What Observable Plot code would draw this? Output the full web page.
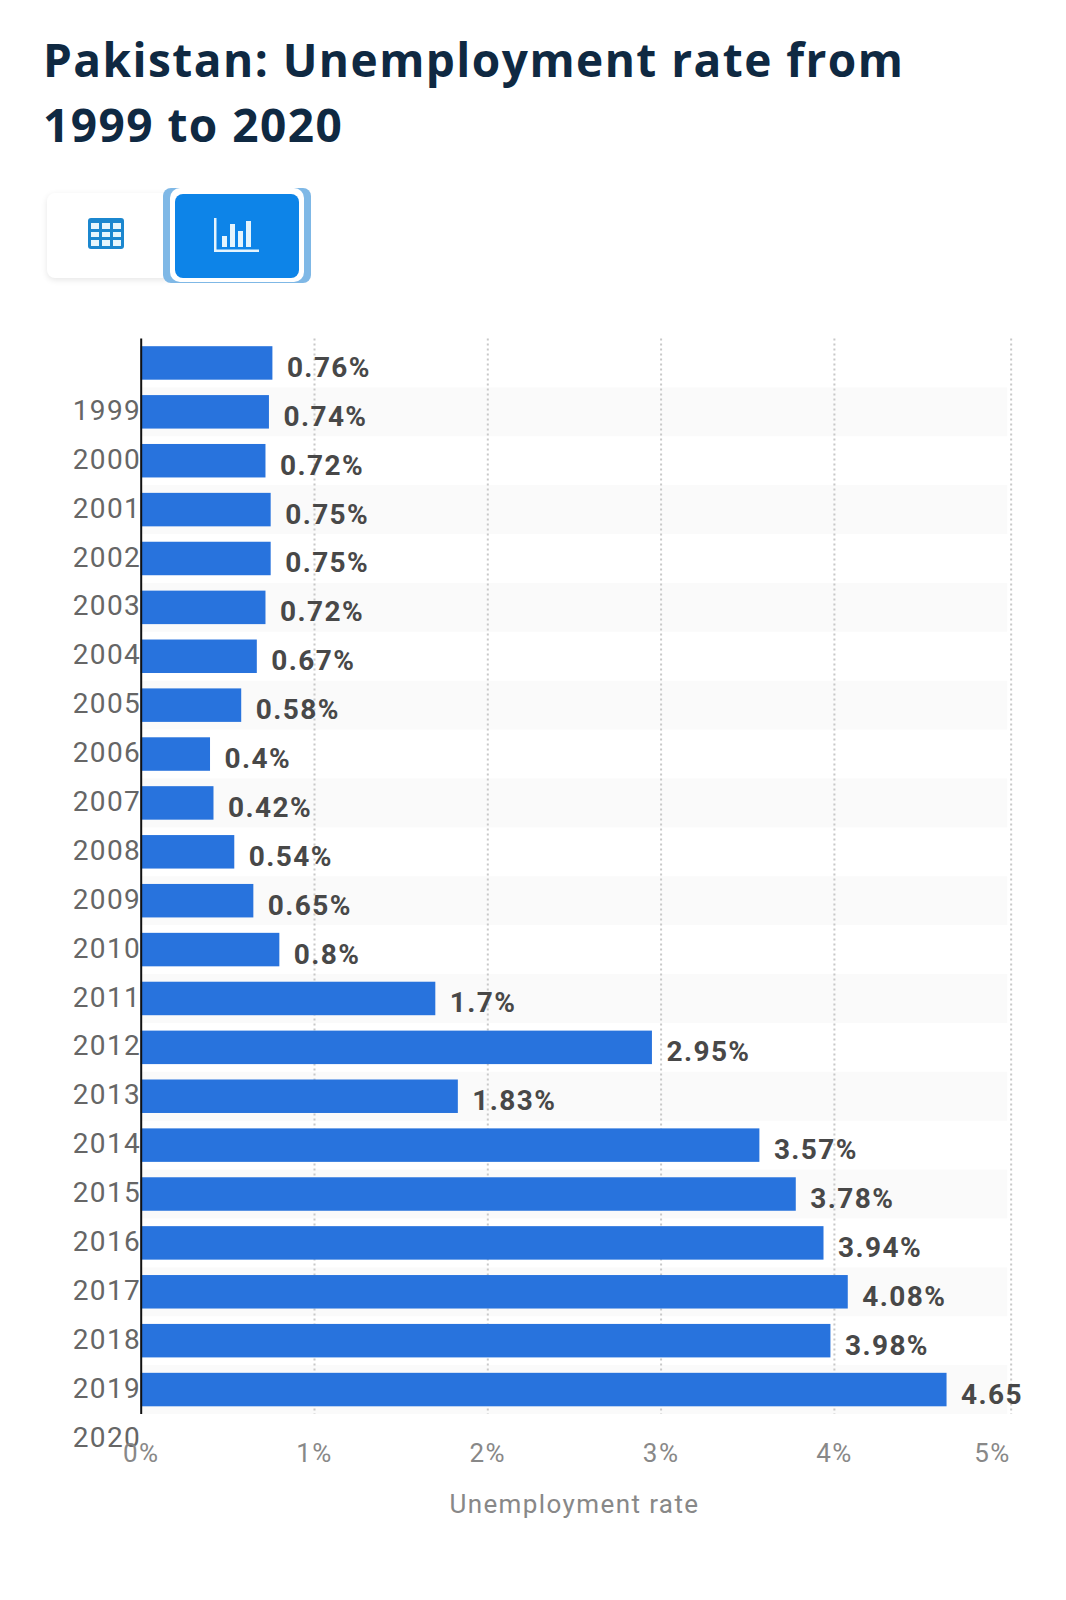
<!DOCTYPE html>
<html><head><meta charset="utf-8">
<script src="https://cdn.jsdelivr.net/npm/d3@7"></script>
<script src="https://cdn.jsdelivr.net/npm/@observablehq/plot@0.6"></script>
<style>
html,body{margin:0;padding:0;background:#fff}
#page{position:relative;width:1066px;height:1600px;overflow:hidden}
#title{position:absolute;left:43px;top:27px;margin:0;font:700 46px/65px "Open Sans",sans-serif;letter-spacing:1.45px;color:#0f2942}
#tbl{position:absolute;left:47px;top:193px;width:125px;height:85px;background:#fff;border-radius:8px;box-shadow:0 2px 6px rgba(0,0,0,.1)}
#ring{position:absolute;left:163px;top:188px;width:148px;height:95px;background:#7fb8e6;border-radius:8px}
#ring2{position:absolute;left:170px;top:188px;width:134px;height:94px;background:#fff;border-radius:10px}
#btn{position:absolute;left:175px;top:194px;width:124px;height:84px;background:#0d84e8;border-radius:8px}
#tbl svg,#btn svg{position:absolute}
#chart{position:absolute;left:0;top:300px}
#chart svg{display:block}
</style></head><body>
<div id="page">
<h1 id="title">Pakistan: Unemployment rate from<br>1999 to 2020</h1>
<div id="tbl"><svg style="left:41px;top:25px" width="36" height="31" viewBox="0 0 36 31"><rect width="36" height="31" rx="3" fill="#1b87cf"/><g fill="#e6f6fd"><rect x="3" y="5" width="8" height="6"/><rect x="14" y="5" width="8" height="6"/><rect x="25" y="5" width="8" height="6"/><rect x="3" y="14" width="8" height="5"/><rect x="14" y="14" width="8" height="5"/><rect x="25" y="14" width="8" height="5"/><rect x="3" y="22" width="8" height="6"/><rect x="14" y="22" width="8" height="6"/><rect x="25" y="22" width="8" height="6"/></g></svg></div>
<div id="ring"></div><div id="ring2"></div>
<div id="btn"><svg style="left:39px;top:24px" width="46" height="36" viewBox="0 0 46 36"><g fill="#e4f4fd"><rect x="0" y="0" width="2.5" height="34"/><rect x="0" y="31.5" width="45" height="2.5"/><rect x="8" y="18" width="5" height="11"/><rect x="16" y="6" width="5" height="23"/><rect x="24" y="13" width="5" height="16"/><rect x="32" y="3" width="5" height="26"/></g></svg></div>
<div id="chart"></div>
</div>
<script>
const years = ["1999","2000","2001","2002","2003","2004","2005","2006","2007","2008","2009","2010","2011","2012","2013","2014","2015","2016","2017","2018","2019","2020"];
const rates = [0.76,0.74,0.72,0.75,0.75,0.72,0.67,0.58,0.4,0.42,0.54,0.65,0.8,1.7,2.95,1.83,3.57,3.78,3.94,4.08,3.98,4.65];
const rateLabels = ["0.76%","0.74%","0.72%","0.75%","0.75%","0.72%","0.67%","0.58%","0.4%","0.42%","0.54%","0.65%","0.8%","1.7%","2.95%","1.83%","3.57%","3.78%","3.94%","4.08%","3.98%","4.65"];
const xTicks = [0,1,2,3,4];
const lastTick = [5];
const gridTicks = [1,2,3,4,5.02];
const rows = years.map((year,i)=>({year,rate:rates[i],label:rateLabels[i]}));
const stripes = years.filter((_,i)=>i%2===1);
const pct = d=>d+"%";

const plot = Plot.plot({
  width:1066,height:1300,
  marginLeft:140.7,marginRight:58.8,marginTop:38.5,marginBottom:186,
  style:{background:"transparent",fontFamily:"Roboto, sans-serif",overflow:"visible",letterSpacing:"1.4px"},
  x:{domain:[0,5]},
  y:{domain:years,paddingInner:0.315,paddingOuter:0.1575,align:0.5,round:false},
  marks:[
    Plot.barX(stripes,{y:d=>d,x1:0,x2:5,fill:"#fafafa",insetTop:-7.7,insetBottom:-7.7}),
    Plot.ruleX(gridTicks,{stroke:"#c8c8c8",strokeWidth:2,strokeDasharray:"2 3"}),
    Plot.barX(rows,{y:"year",x:"rate",fill:"#2873dd"}),
    Plot.ruleX([0],{stroke:"#111",strokeWidth:2}),
    Plot.text(rows,{y:"year",x:"rate",text:"label",textAnchor:"start",dx:14,dy:4.5,fontSize:28,fontWeight:700,fill:"#484848",stroke:"none"}),
    Plot.axisY({domain:years,tickSize:0,tickPadding:0,dy:47.5,fontSize:28,color:"#666",label:null,tickFormat:d=>d}),
    Plot.axisX(xTicks,{tickSize:0,tickPadding:0,dy:29,fontSize:26,color:"#888",tickFormat:pct,label:"Unemployment rate",labelAnchor:"center",labelOffset:98,labelArrow:"none"}),
    Plot.axisX(lastTick,{tickSize:0,tickPadding:0,dy:29,dx:3,fontSize:26,color:"#888",tickFormat:pct,textAnchor:"end",label:null})
  ]
});
document.getElementById("chart").appendChild(plot);
</script>
</body></html>
